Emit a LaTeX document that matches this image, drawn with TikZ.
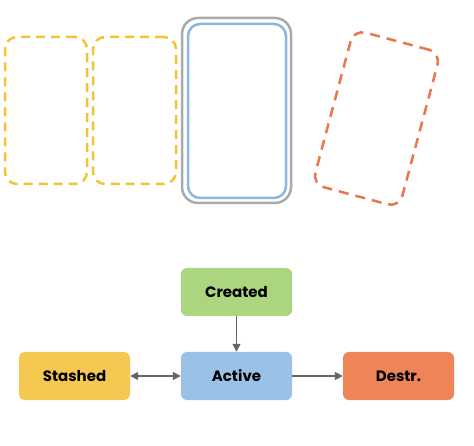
\documentclass[tikz,border=0pt]{standalone}
\usepackage{fontspec}
\setmainfont{Poppins}
\usetikzlibrary{positioning, arrows.meta}
\definecolor{stashY}{HTML}{F5C851}
\definecolor{activeB}{HTML}{9AC2E6}
\definecolor{createdG}{HTML}{ABD57F}
\definecolor{destrO}{HTML}{EF8458}
\definecolor{dashY}{HTML}{F2C335}
\definecolor{dashO}{HTML}{E8764E}
\definecolor{frameG}{HTML}{AAAAAA}
\definecolor{frameB}{HTML}{8AB6E0}
\definecolor{arrowG}{HTML}{666666}
\tikzset{
  state/.style={rectangle, rounded corners=6pt, minimum width=111pt, minimum height=48pt, font=\bfseries\fontsize{15}{18}\selectfont},
  slot/.style={rectangle, rounded corners=12pt, line width=2.5pt, dash pattern=on 9pt off 6pt},
  trans/.style={line width=1.6pt, arrowG, arrows={-Triangle[length=8pt, width=8pt]}}
}
\begin{document}
\begin{tikzpicture}[x=1pt, y=-1pt]
  \useasboundingbox (0,0) rectangle (474,446);

  % Stashed slots
  \node[slot, draw=dashY, minimum width=82pt, minimum height=147pt] (slotA) at (46,110.5) {};
  \node[slot, draw=dashY, minimum width=83pt, minimum height=147pt] (slotB) at (134.5,110.5) {};

  % Active slot
  \node[rectangle, rounded corners=16pt, line width=2.5pt, draw=frameG, minimum width=109pt, minimum height=185pt] (frame) at (236.5,110.5) {};
  \node[rectangle, rounded corners=12pt, line width=2.5pt, draw=frameB, minimum width=98pt, minimum height=174pt] (card) at (237,111) {};

  % Destroyed slot
  \node[slot, draw=dashO, minimum width=90pt, minimum height=160pt, rotate=-15, dash pattern=on 10pt off 7pt] (gone) at (376.5,118.5) {};

  % States
  \node[state, fill=createdG] (created) at (236.5,292) {Created};
  \node[state, fill=activeB] (active) at (236.5,376) {Active};
  \node[state, fill=stashY] (stashed) at (74.5,376) {Stashed};
  \node[state, fill=destrO] (destr) at (398.5,376) {Destr.};

  % Transitions
  \draw[trans] (created) -- (active);
  \draw[trans, arrows={Triangle[length=8pt, width=8pt]-Triangle[length=8pt, width=8pt]}] (stashed) -- (active);
  \draw[trans] (active) -- (destr);
\end{tikzpicture}
\end{document}
